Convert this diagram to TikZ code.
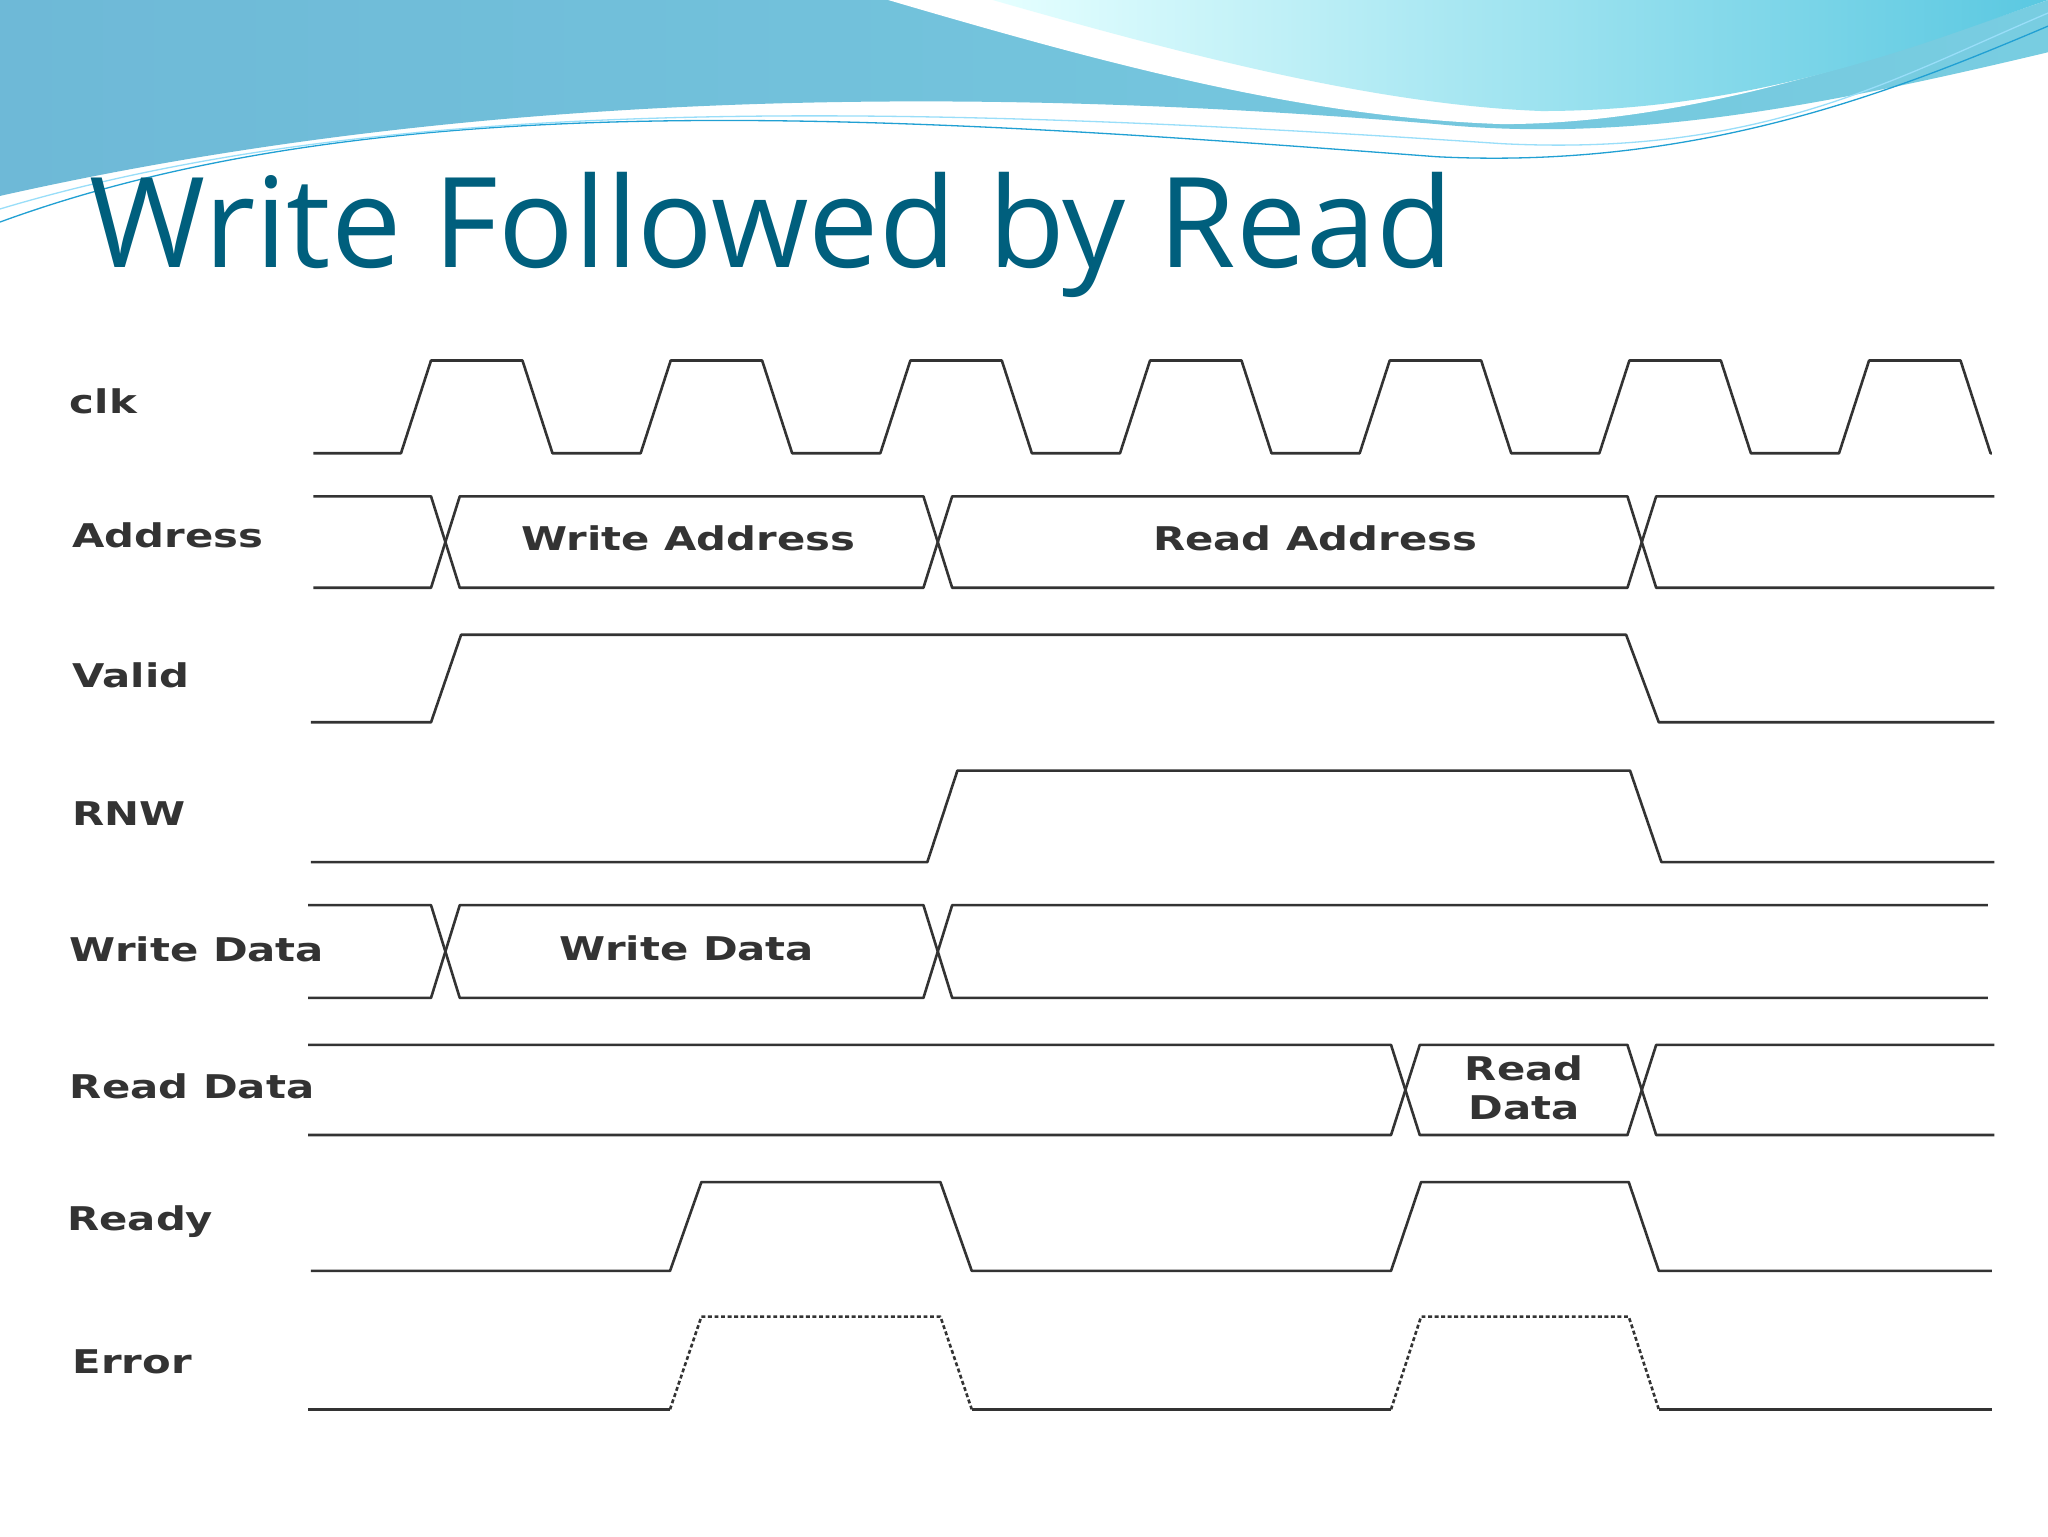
\documentclass[tikz,border=0pt]{standalone}
\usepackage{fontspec}
\setmainfont{DejaVu Sans}
\newfontfamily\labfont[FakeStretch=1.28]{DejaVu Sans}
\newfontfamily\titlefont{Open Sans}
\begin{document}
\begin{tikzpicture}[x=1pt,y=-1pt,
 sig/.style={line width=2pt,black!80,line join=round},
 lab/.style={anchor=west,font=\labfont\fontsize{25}{25}\selectfont\bfseries,text=black!80},
 dat/.style={font=\labfont\fontsize{25}{30}\selectfont\bfseries,text=black!80,align=center}]
\useasboundingbox (0,0) rectangle (1568,1176);
\fill[white] (0,0) rectangle (1568,1176);
% header waves
\shade[left color={rgb,255:red,110;green,185;blue,215}, right color={rgb,255:red,120;green,205;blue,225}] (0,0) -- (1568,0) -- (1568,40) .. controls (1400,80) and (1250,110) .. (1100,95) .. controls (800,70) and (400,60) .. (0,150) -- cycle;
\fill[white] (680,0) .. controls (850,50) and (1000,90) .. (1150,95) .. controls (1300,95) and (1450,40) .. (1568,0) -- cycle;
\shade[left color=cyan!10, right color={rgb,255:red,90;green,200;blue,225}] (760,0) .. controls (900,40) and (1050,80) .. (1180,85) .. controls (1350,85) and (1480,30) .. (1568,0) -- cycle;
\draw[cyan!70!teal,line width=1pt] (0,170) .. controls (300,60) and (700,90) .. (1100,120) .. controls (1300,130) and (1450,70) .. (1568,20);
\draw[cyan!40,line width=1pt] (0,160) .. controls (300,70) and (700,80) .. (1150,110) .. controls (1350,120) and (1450,60) .. (1568,10);
\node[anchor=base west,inner sep=0,text={rgb,255:red,0;green,95;blue,125},font=\titlefont\fontsize{96}{96}\selectfont] (title) at (68,205) {Write Followed by Read};
% labels
\node[lab] (l1) at (50,307) {clk};
\node[lab] (l2) at (52,410) {Address};
\node[lab] (l3) at (52,517) {Valid};
\node[lab] (l4) at (52,623) {RNW};
\node[lab] (l5) at (50,727) {Write Data};
\node[lab] (l6) at (50,832) {Read Data};
\node[lab] (l7) at (48,935) {Ready};
\node[lab] (l8) at (52,1043) {Error};
% clk
\draw[sig] (240,347)
 \foreach \i in {0,...,6}{ -- (307+183.5*\i,347) -- (330+183.5*\i,276) -- (400+183.5*\i,276) -- (423+183.5*\i,347)} -- (1525,347);
% address
\draw[sig] (240,380) -- (330,380) -- (352,450) -- (707,450) -- (729,380) -- (1246,380) -- (1268,450) -- (1527,450);
\draw[sig] (240,450) -- (330,450) -- (352,380) -- (707,380) -- (729,450) -- (1246,450) -- (1268,380) -- (1527,380);
\node[dat] (wa) at (527,412) {Write Address};
\node[dat] (ra) at (1007,412) {Read Address};
% valid
\draw[sig] (238,553) -- (330,553) -- (353,486) -- (1245,486) -- (1270,553) -- (1527,553);
% RNW
\draw[sig] (238,660) -- (710,660) -- (733,590) -- (1248,590) -- (1272,660) -- (1527,660);
% write data
\draw[sig] (236,693) -- (330,693) -- (352,764) -- (707,764) -- (729,693) -- (1522,693);
\draw[sig] (236,764) -- (330,764) -- (352,693) -- (707,693) -- (729,764) -- (1522,764);
\node[dat] (wd) at (526,726) {Write Data};
% read data
\draw[sig] (236,800) -- (1065,800) -- (1087,869) -- (1246,869) -- (1268,800) -- (1527,800);
\draw[sig] (236,869) -- (1065,869) -- (1087,800) -- (1246,800) -- (1268,869) -- (1527,869);
\node[dat] (rd) at (1167,833) {Read\\Data};
% ready
\draw[sig] (238,973) -- (513,973) -- (537,905) -- (720,905) -- (744,973) -- (1065,973) -- (1088,905) -- (1247,905) -- (1270,973) -- (1525,973);
% error
\draw[sig] (236,1079) -- (513,1079);
\draw[sig,dash pattern=on 3pt off 2pt] (513,1079) -- (537,1008) -- (720,1008) -- (744,1079);
\draw[sig] (744,1079) -- (1065,1079);
\draw[sig,dash pattern=on 3pt off 2pt] (1065,1079) -- (1088,1008) -- (1247,1008) -- (1270,1079);
\draw[sig] (1270,1079) -- (1525,1079);
\end{tikzpicture}
\end{document}
